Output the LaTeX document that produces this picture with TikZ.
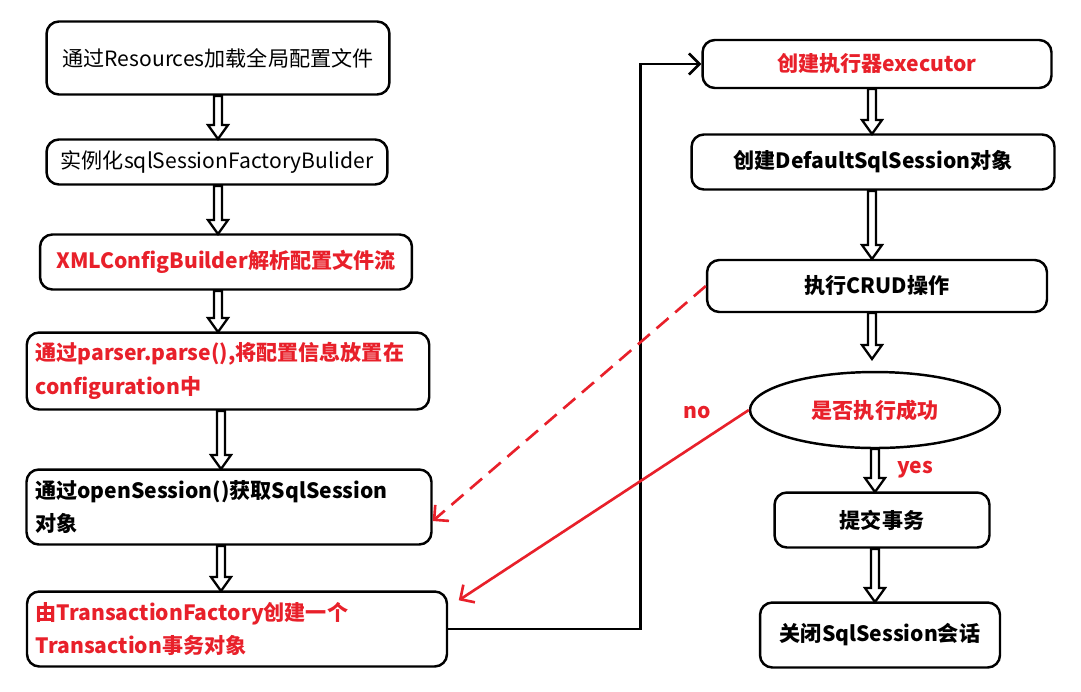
\documentclass[tikz,border=0pt]{standalone}
\usepackage{fontspec}
\setmainfont{Noto Sans CJK SC}
\usetikzlibrary{shapes.geometric,arrows.meta}
\definecolor{hred}{HTML}{E8202A}
\tikzset{
  box/.style={draw, line width=1.4pt, rounded corners=7pt, font=\fontsize{12}{19}\selectfont, inner xsep=5pt},
  hot/.style={text=hred, font=\fontsize{12}{19}\selectfont\bfseries},
  down/.style={draw, line width=1.3pt, fill=white, line join=miter},
  link/.style={line width=1.5pt, -{Straight Barb[length=6pt,width=12pt]}}
}
\begin{document}
\begin{tikzpicture}[x=0.02cm, y=-0.02cm]
  \useasboundingbox (0,0) rectangle (1081,691);
  % linke Spalte
  \node[box, minimum width=6.86cm, minimum height=1.46cm] (load) at (218,58) {通过Resources加载全局配置文件};
  \node[box, minimum width=6.82cm, minimum height=0.9cm] (inst) at (217,162) {实例化sqlSessionFactoryBulider};
  \node[box, hot, minimum width=7.44cm, minimum height=1.1cm] (xml) at (226,262) {XMLConfigBuilder解析配置文件流};
  \node[box, hot, text width=7.7cm, minimum height=1.54cm] (parse) at (228,371) {通过parser.parse(),将配置信息放置在\\configuration中};
  \node[box, font=\fontsize{12}{19}\selectfont\bfseries, text width=7.75cm, minimum height=1.5cm] (open) at (229,507) {通过openSession()获取SqlSession\\对象};
  \node[box, hot, text width=8.05cm, minimum height=1.5cm] (trans) at (237,629) {由TransactionFactory创建一个\\Transaction事务对象};
  % rechte Spalte
  \node[box, hot, minimum width=6.98cm, minimum height=0.96cm] (exec) at (877,64) {创建执行器executor};
  \node[box, font=\fontsize{12}{19}\selectfont\bfseries, minimum width=7.26cm, minimum height=1.1cm] (dflt) at (873,162) {创建DefaultSqlSession对象};
  \node[box, font=\fontsize{12}{19}\selectfont\bfseries, minimum width=6.8cm, minimum height=1.04cm] (crud) at (877,286) {执行CRUD操作};
  \node[ellipse, draw, line width=1.4pt, hot, minimum width=5cm, minimum height=1.52cm] (ok) at (875,410) {是否执行成功};
  \node[box, font=\fontsize{12}{19}\selectfont\bfseries, minimum width=4.3cm, minimum height=1.1cm] (commit) at (882,520) {提交事务};
  \node[box, font=\fontsize{12}{19}\selectfont\bfseries, minimum width=4.8cm, minimum height=1.3cm] (close) at (880,635) {关闭SqlSession会话};
  % Blockpfeile
  \foreach \x/\a/\b in {218/96/139, 218/186/234, 218/291/332, 221/411/469, 221/546/591,
                        872/89/134, 872/191/259, 872/313/359, 875/449/492, 875/549/602}
    \draw[down] ({\x-4},\a) -- ({\x+4},\a) -- ({\x+4},{\b-14}) -- ({\x+10},{\b-14}) -- (\x,\b)
      -- ({\x-10},{\b-14}) -- ({\x-4},{\b-14}) -- cycle;
  % Verbindungen
  \draw[link] (trans.east) -- ++(192,0) |- (exec.west);
  \draw[link, hred, dashed, dash pattern=on 9pt off 5pt] (crud.west) -- ([yshift=-0.28cm]open.east);
  \draw[link, hred] (ok.west) -- ([xshift=6pt,yshift=-0.2cm]trans.north east);
  \node[hot] (no) at (697,412) {no};
  \node[hot] (yes) at (915,470) {yes};
\end{tikzpicture}
\end{document}
